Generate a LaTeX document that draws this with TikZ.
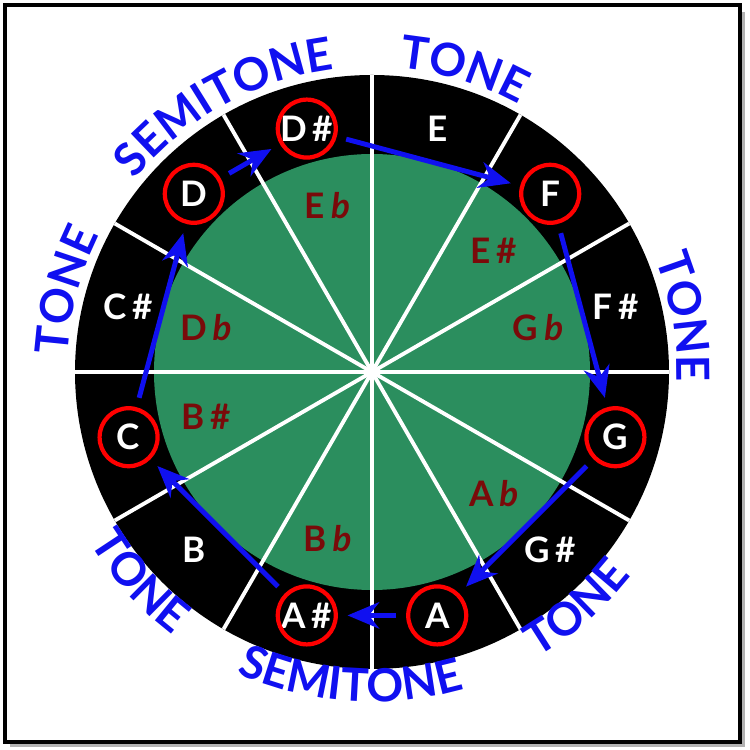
\documentclass[tikz,border=0pt]{standalone}
\usepackage{fontspec}
\setmainfont{Lato}
\usetikzlibrary{arrows.meta,decorations.text,calc}
\definecolor{board}{HTML}{2B8E5E}
\definecolor{flatred}{HTML}{7A0A0A}
\definecolor{toneblue}{HTML}{1010F0}
\begin{document}
\begin{tikzpicture}[x=0.02cm,y=0.02cm,
    note/.style={circle, inner sep=0pt, minimum size=46, text=white, font=\fontsize{20}{20}\selectfont\bfseries},
    ringed/.style={draw=red, line width=2.4pt},
    inner/.style={text=flatred, font=\fontsize{20}{20}\selectfont\bfseries},
    move/.style={-{Stealth[length=18pt,width=15pt]}, toneblue, line width=2.8pt},
    step label/.style={decorate, decoration={text along path, text align=center,
        text={|\fontsize{26}{26}\selectfont\bfseries\color{toneblue}|#1}}}]
    % frame
    \fill[gray!60] (10,3) rectangle (745,738);
    \fill[white, draw=black, line width=2pt] (5,8) rectangle (740,745);
    \useasboundingbox (0,0) rectangle (750,750);
    \coordinate (o) at (372,378);
    % dial
    \fill[black] (o) circle (297);
    \fill[board] (o) circle (218);
    \foreach \a in {0,30,...,330}
        \draw[white, line width=2.2pt] (o) -- ++(\a:297);
    \fill[white] (o) circle (6);
    % notes on the outer ring
    \foreach \a/\n/\t in {75/E/E, 105/Ds/{D\,\#}, 135/D/D, 165/Cs/{C\,\#}, 195/C/C, 225/B/B,
                          255/As/{A\,\#}, 285/A/A, 315/Gs/{G\,\#}, 345/G/G, 15/Fs/{F\,\#}, 45/F/F}
        \node[note] (n-\n) at ($(o)+(\a:252)$) {\t};
    \foreach \n in {Ds,D,C,As,A,G,F}
        \draw[ringed] (n-\n) circle (29);
    % enharmonic names on the green
    \foreach \a/\t in {105/{E\,\textit{b}}, 45/{E\,\#}, 15/{G\,\textit{b}}, 315/{A\,\textit{b}},
                       255/{B\,\textit{b}}, 195/{B\,\#}, 165/{D\,\textit{b}}}
        \node[inner] at ($(o)+(\a:172)$) {\t};
    % steps
    \draw[move] (n-D) -- (n-Ds);
    \draw[move] (n-Ds) -- (n-F);
    \draw[move] (n-F) -- (n-G);
    \draw[move] (n-G) -- (n-A);
    \draw[move] (n-A) -- (n-As);
    \draw[move] (n-As) -- (n-C);
    \draw[move] (n-C) -- (n-D);
    % interval names
    \path[step label=TONE] ($(o)+(103:305)$) arc (103:43:305);
    \path[step label=TONE] ($(o)+(40:305)$) arc (40:-20:305);
    \path[step label=SEMITONE] ($(o)+(164:305)$) arc (164:74:305);
    \path[step label=TONE] ($(o)+(195:305)$) arc (195:135:305);
    \path[step label=TONE] ($(o)+(192:330)$) arc (192:252:330);
    \path[step label=SEMITONE] ($(o)+(221:330)$) arc (221:311:330);
    \path[step label=TONE] ($(o)+(281:330)$) arc (281:341:330);
\end{tikzpicture}
\end{document}
